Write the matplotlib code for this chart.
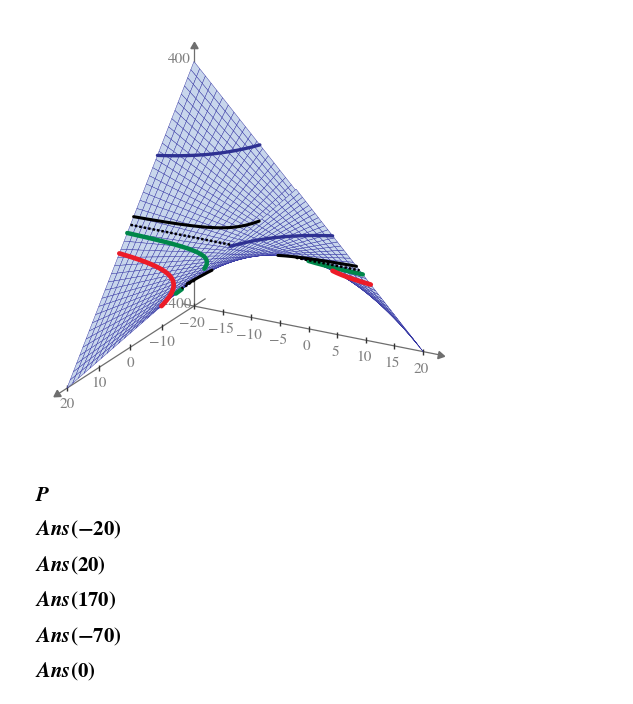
import matplotlib.pyplot as plt
import numpy as np
from mpl_toolkits.mplot3d import proj3d

plt.rcParams['mathtext.fontset'] = 'stix'

# surface P = x*y over the square
x_range = [-20, 20]
y_range = [-20, 20]
z_range = [-400, 400]
grid_n = 41

# Ans(c) : the level curves x*y = c lying on the surface
ans_levels = [-20, 20, 170, -70, 0]
ans_colors = ['#00874a', '#000000', '#2e3192', '#ec1c28', '#000000']
ans_widths = [3.2, 2.2, 2.4, 3.4, 1.8]
ans_styles = ['-', '-', '-', '-', (0, (1, 0.8))]

x_ticks = [-20, -15, -10, -5, 0, 5, 10, 15, 20]
y_ticks = [-10, 0, 10, 20]
z_ticks = [-400, 400]

list_names = [r'$\mathbfit{P}$',
              r'$\mathbfit{Ans}\mathbf{(-20)}$',
              r'$\mathbfit{Ans}\mathbf{(20)}$',
              r'$\mathbfit{Ans}\mathbf{(170)}$',
              r'$\mathbfit{Ans}\mathbf{(-70)}$',
              r'$\mathbfit{Ans}\mathbf{(0)}$']

elev, azim = 21, -61
axis_grey = '#6e6e6e'
tick_col = '#333333'
label_grey = '#808080'


def level_branches(c, lim=20, n=400):
    if c == 0:
        t = np.linspace(-lim, lim, n)
        return [(t, np.zeros(n)), (np.zeros(n), t)]
    s = np.geomspace(abs(c) / lim, lim, n)
    return [(s, c / s), (-s, c / -s)]


def hidden(px, py):
    # is some other part of the sheet between the point and the viewer?
    e, a = np.radians(elev), np.radians(azim)
    dx = np.cos(e) * np.cos(a) * (x_range[1] - x_range[0])
    dy = -np.cos(e) * np.sin(a) * (y_range[1] - y_range[0])   # y drawn reversed
    dz = np.sin(e) * (z_range[1] - z_range[0])
    t = (dz - px * dy - py * dx) / (dx * dy)
    qx, qy = px + t * dx, py + t * dy
    return (t > 1e-6) & (np.abs(qx) <= 20) & (np.abs(qy) <= 20)


fig = plt.figure(figsize=(6.33, 7.04), dpi=100)
ax = fig.add_axes([0.079, 0.371, 0.6, 0.54], projection='3d', computed_zorder=False)
ax.set_proj_type('ortho')
ax.view_init(elev, azim)
ax.set_xlim(*x_range)
ax.set_ylim(y_range[1], y_range[0])
ax.set_zlim(*z_range)
ax.set_box_aspect((1, 1, 1), zoom=1.16)
ax.set_axis_off()

# axes from the back corner, behind the sheet
x_axis = ([-22, 23], [-20, -20], [-400, -400])
y_axis = ([-20, -20], [-23.5, 23], [-400, -400])
z_axis = ([-20, -20], [-20, -20], [-400, 450])
for a3 in (x_axis, y_axis, z_axis):
    ax.plot(*a3, color=axis_grey, lw=0.9, zorder=1, clip_on=False)
ax.plot(x_ticks, [-20] * len(x_ticks), [-400] * len(x_ticks), ls='none', marker='|',
        ms=4, mew=1, color=tick_col, zorder=1, clip_on=False)
ax.plot([-20] * len(y_ticks), y_ticks, [-400] * len(y_ticks), ls='none', marker='|',
        ms=4, mew=1, color=tick_col, zorder=1, clip_on=False)

xs = np.linspace(x_range[0], x_range[1], grid_n)
ys = np.linspace(y_range[0], y_range[1], grid_n)
X, Y = np.meshgrid(xs, ys)
Z = X * Y
surf = ax.plot_surface(X, Y, Z, color='#c8d6ec', edgecolor='#2d2da0', linewidth=0.3,
                       shade=False, rstride=1, cstride=1, zorder=2)
surf.set_clip_on(False)

for c, col, lw, ls in zip(ans_levels, ans_colors, ans_widths, ans_styles):
    for bx, by in level_branches(c):
        bx = bx.copy()
        by = by.copy()
        mask = hidden(bx, by)
        bz = bx * by
        bx[mask] = np.nan
        by[mask] = np.nan
        bz[mask] = np.nan
        ax.plot(bx, by, bz, color=col, lw=lw, ls=ls, zorder=3, solid_capstyle='round',
                clip_on=False)

# tick labels and arrow heads are placed in 2d after the projection is known
fig.canvas.draw()


def to2d(x, y, z):
    px, py, _ = proj3d.proj_transform(np.atleast_1d(x), np.atleast_1d(y),
                                      np.atleast_1d(z), ax.get_proj())
    return px, py


def fmt(v):
    return str(v).replace('-', '\u2212')


def tick_labels(px, py, vals, off, ha):
    for v, a, b in zip(vals, px, py):
        ax.annotate(fmt(v), (a, b), xytext=off, textcoords='offset points', ha=ha,
                    va='center', color=label_grey, fontsize=11, family='STIXGeneral',
                    zorder=1, annotation_clip=False)


px, py = to2d(x_ticks, [-20] * len(x_ticks), [-400] * len(x_ticks))
tick_labels(px, py, x_ticks, (-1.5, -12.5), 'center')
px, py = to2d([-20] * len(y_ticks), y_ticks, [-400] * len(y_ticks))
tick_labels(px, py, y_ticks, (0, -11.5), 'center')
px, py = to2d([-20] * len(z_ticks), [-20] * len(z_ticks), z_ticks)
tick_labels(px, py, z_ticks, (-2, 1.5), 'right')

for a3 in (x_axis, y_axis, z_axis):
    sx, sy = to2d(*a3)
    d0 = ax.transData.transform((sx[0], sy[0]))
    d1 = ax.transData.transform((sx[1], sy[1]))
    ang = np.degrees(np.arctan2(d1[1] - d0[1], d1[0] - d0[0]))
    ax.plot([a3[0][1]], [a3[1][1]], [a3[2][1]], marker=(3, 0, ang - 90), ms=6,
            color=axis_grey, zorder=1, clip_on=False)

for i, name in enumerate(list_names):
    fig.text(35 / 633, 1 - (495 + 35.4 * i) / 704, name, fontsize=15, va='center', ha='left')

fig.savefig('out.png', dpi=100)
